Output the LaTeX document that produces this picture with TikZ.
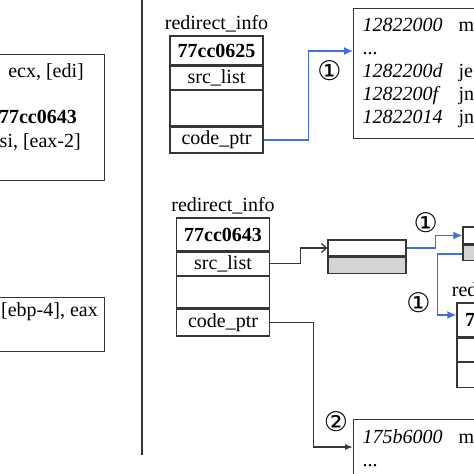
\documentclass[tikz,border=0pt]{standalone}
\usepackage{fontspec}
\setmainfont{Liberation Serif}
\newfontfamily\circfont{DejaVu Sans}
\usepackage{xcolor}
\usepackage{tikz}
\usetikzlibrary{positioning, arrows.meta}
\definecolor{linegray}{RGB}{55,55,55}
\definecolor{cellgray}{RGB}{210,212,214}
\definecolor{ptrblue}{RGB}{66,110,222}
\tikzstyle{cell} = [rectangle, draw=linegray, line width=1.3pt, minimum width=93pt, inner sep=0pt, font=\fontsize{20}{23}\selectfont]
\tikzstyle{shaded} = [cell, fill=cellgray]
\tikzstyle{caption} = [inner sep=1pt, font=\fontsize{20}{23}\selectfont]
\tikzstyle{codebox} = [rectangle, draw=linegray, line width=1.3pt, anchor=north west, align=left, text width=200pt, inner xsep=9pt, inner ysep=10pt, font=\fontsize{20}{23}\selectfont]
\tikzstyle{blueptr} = [draw=ptrblue, line width=1.4pt, -{Latex[length=9pt,width=8pt]}]
\tikzstyle{blackptr} = [draw=linegray, line width=1.3pt]
\tikzstyle{circnum} = [inner sep=0pt, font=\circfont\fontsize{27}{27}\selectfont]
\newcommand{\addr}[1]{\makebox[96pt][l]{\textit{#1}}}

\begin{document}
\begin{tikzpicture}[x=1pt, y=-1pt, node distance=0pt]
    \useasboundingbox (0,0) rectangle (474,474);
    \clip (0,0) rectangle (474,474);

    % Left part
    \node[cell, minimum width=140pt, minimum height=126pt, anchor=north east] (blockA) at (105,54) {};
    \node[caption, anchor=east] (instA) at (85,72) {ecx, [edi]};
    \node[caption, anchor=east, font=\fontsize{20}{23}\selectfont\bfseries] (addrA) at (78,117) {77cc0643};
    \node[caption, anchor=east] (instB) at (82,142) {si, [eax-2]};
    \node[cell, minimum width=140pt, minimum height=54pt, anchor=north east] (blockB) at (105,297) {};
    \node[caption, anchor=west] (instC) at (0,312) {[ebp-4], eax};
    \coordinate (sepTop) at (142,0);
    \coordinate (sepBot) at (142,455);
    \draw[linegray, line width=1.2pt] (sepTop) -- (sepBot);

    % Upper redirect_info
    \node[cell, minimum height=29pt] (a0) at (216.5,50.5) {\textbf{77cc0625}};
    \node[cell, minimum height=23pt, below=of a0] (a1) {src\_list};
    \node[cell, minimum height=35pt, below=of a1] (a2) {};
    \node[cell, minimum height=26pt, below=of a2] (a3) {code\_ptr};
    \node[caption, above=2pt of a0] (aname) {redirect\_info};
    \node[codebox] (codeA) at (353,8) {\addr{12822000}m\\
        ...\\
        \addr{1282200d}je\\
        \addr{1282200f}jn\\
        \addr{12822014}jn};

    % Lower redirect_info
    \node[cell, minimum height=33pt] (b0) at (223,234.5) {\textbf{77cc0643}};
    \node[cell, minimum height=23pt, below=of b0] (b1) {src\_list};
    \node[cell, minimum height=31pt, below=of b1] (b2) {};
    \node[cell, minimum height=27pt, below=of b2] (b3) {code\_ptr};
    \node[caption, above=2pt of b0] (bname) {redirect\_info};

    \node[cell, minimum width=78pt, minimum height=16pt] (sb0) at (367,248) {};
    \node[shaded, minimum width=78pt, minimum height=16pt, below=of sb0] (sb1) {};
    \node[cell, minimum width=60pt, minimum height=17pt] (rb0) at (493,235.5) {};
    \node[shaded, minimum width=60pt, minimum height=15pt, below=of rb0] (rb1) {};

    \node[cell, minimum height=34pt] (c0) at (503.5,320) {};
    \node[cell, minimum height=23pt, below=of c0] (c1) {};
    \node[cell, minimum height=25pt, below=of c1] (c2) {};
    \node[caption, above=2pt of c0] (cname) {redirect\_info};
    \node[caption, anchor=west, font=\fontsize{20}{23}\selectfont\bfseries] (cval) at (464,320) {7};

    \node[codebox] (codeB) at (353,419) {\addr{175b6000}mo\\
        ...\\
        \strut};

    % Pointers
    \draw[blueptr] (a3.east) -- ++(45,0) |- node[pos=0.39, circnum, right=8pt] {①} ([yshift=-43pt]codeA.north west);
    \draw[blackptr, -{Straight Barb[length=5pt,width=9pt]}] (b1.east) -- ++(30,0) |- (sb0.west);
    \draw[blueptr] (sb0.east) -- ++(29,0) |- node[pos=0.5, circnum, anchor=south east, xshift=3pt, yshift=2pt] {①} (rb0.west);
    \draw[blueptr] ([yshift=-1pt]rb1.west) -- ++(-25,0) |- node[pos=0.4, circnum, left=6pt] {①} ([yshift=5pt]c0.west);
    \draw[blackptr, -{Latex[length=8pt,width=6pt]}] (b3.east) -- ++(43,0) |- node[pos=0.4, circnum, right=10pt] {②} ([yshift=-28pt]codeB.north west);
\end{tikzpicture}
\end{document}
